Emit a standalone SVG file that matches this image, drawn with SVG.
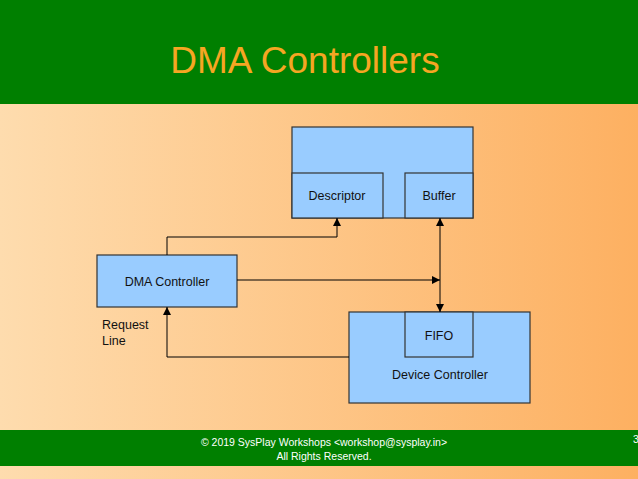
<svg xmlns="http://www.w3.org/2000/svg" width="638" height="479" viewBox="0 0 638 479">
<defs>
<linearGradient id="bg" x1="0" y1="0" x2="1" y2="0"><stop offset="0" stop-color="#fedcae"/><stop offset="1" stop-color="#fdb061"/></linearGradient>
<marker id="ah" markerWidth="8" markerHeight="8" refX="8" refY="4" orient="auto-start-reverse" markerUnits="userSpaceOnUse"><path d="M0,0 L8,4 L0,8 Z" fill="#000"/></marker>
<style>
.box{fill:#99ccff;stroke:#333;stroke-width:1.2}
.t{font-family:"Liberation Sans",Arial,sans-serif;font-size:12.5px;fill:#111}
.c{fill:none;stroke:#000;stroke-width:1}
.f{font-family:"Liberation Sans",Arial,sans-serif;font-size:10.5px;fill:#fff}
</style>
</defs>
<rect width="638" height="479" fill="url(#bg)"/>
<rect width="638" height="104" fill="#007f00"/>
<text x="305" y="73" text-anchor="middle" font-family="Liberation Sans,Arial,sans-serif" font-size="37" fill="#f5a623">DMA Controllers</text>
<rect y="430" width="638" height="36" fill="#007f00"/>
<text class="f" x="324" y="446" text-anchor="middle">© 2019 SysPlay Workshops &lt;workshop@sysplay.in&gt;</text>
<text class="f" x="324" y="460" text-anchor="middle">All Rights Reserved.</text>
<text class="f" x="633" y="443">3</text>
<g id="memory"><rect class="box" x="292" y="127" width="181" height="91"/></g>
<g id="descriptor"><rect class="box" x="292" y="173" width="91" height="45"/><text class="t" x="337" y="200" text-anchor="middle">Descriptor</text></g>
<g id="buffer"><rect class="box" x="405" y="173" width="68" height="45"/><text class="t" x="439" y="200" text-anchor="middle">Buffer</text></g>
<g id="dma"><rect class="box" x="97" y="255" width="140" height="52"/><text class="t" x="167" y="286" text-anchor="middle">DMA Controller</text></g>
<g id="device"><rect class="box" x="349" y="312" width="181" height="91"/><text class="t" x="440" y="379" text-anchor="middle">Device Controller</text></g>
<g id="fifo"><rect class="box" x="405" y="312" width="68" height="45"/><text class="t" x="439" y="340" text-anchor="middle">FIFO</text></g>
<g id="connectors">
<path class="c" d="M167,255 V237 H337 V218" marker-end="url(#ah)"/>
<path class="c" d="M237,280 H440" marker-end="url(#ah)"/>
<path class="c" d="M440,218 V312" marker-start="url(#ah)" marker-end="url(#ah)"/>
<path class="c" d="M349,357 H167 V307" marker-end="url(#ah)"/>
</g>
<text class="t" x="102" y="329" fill="#222">Request</text>
<text class="t" x="102" y="345" fill="#222">Line</text>
</svg>
